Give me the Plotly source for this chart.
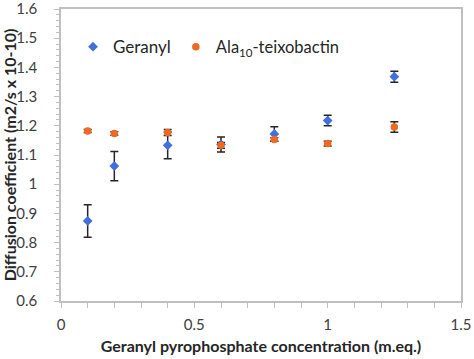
import plotly.graph_objects as go

conc = [0.1, 0.2, 0.4, 0.6, 0.8, 1.0, 1.25]
geranyl = [0.874, 1.062, 1.133, 1.136, 1.172, 1.218, 1.368]
geranyl_err = [0.056, 0.050, 0.046, 0.026, 0.025, 0.018, 0.019]
ala = [1.182, 1.174, 1.177, 1.133, 1.153, 1.139, 1.196]
ala_err = [0.005, 0.006, 0.010, 0.010, 0.006, 0.008, 0.018]

font_family = "Lato, 'Open Sans', sans-serif"
err_color = "#262626"

fig = go.Figure()
fig.add_trace(go.Scatter(
    x=conc, y=geranyl, mode="markers",
    name="<span style='font-size:17px'>Geranyl</span>",
    marker=dict(symbol="diamond", size=7.5, color="#3f6fe0"),
    error_y=dict(type="data", array=geranyl_err, visible=True,
                 color=err_color, thickness=1.5, width=4),
))
fig.add_trace(go.Scatter(
    x=conc, y=ala, mode="markers",
    name="Ala<sub>10</sub>-teixobactin",
    marker=dict(symbol="circle", size=7.5, color="#ee6a24"),
    error_y=dict(type="data", array=ala_err, visible=True,
                 color=err_color, thickness=1.5, width=4),
))

fig.update_layout(
    width=474, height=359,
    margin=dict(l=61, r=13, t=9, b=58, autoexpand=False),
    paper_bgcolor="white", plot_bgcolor="white",
    font=dict(family=font_family, color="#404040"),
    showlegend=True,
    legend=dict(orientation="h", x=0.03, y=0.87,
                xanchor="left", yanchor="middle",
                font=dict(size=16.5, color="#262626"), bgcolor="rgba(0,0,0,0)",
                tracegroupgap=0),
)
fig.update_xaxes(
    range=[0, 1.5], dtick=0.5,
    showgrid=False, zeroline=False,
    showline=True, linecolor="#bfbfbf", linewidth=1.5, mirror=True,
    ticks="outside", ticklen=5, tickcolor="#bfbfbf",
    minor=dict(dtick=0.1, ticks="outside", ticklen=5, tickcolor="#bfbfbf"),
    tickfont=dict(size=15, color="#404040"),
    ticklabelstandoff=4, ticklabeloverflow="allow",
    title=dict(text="<b>Geranyl pyrophosphate concentration (m.eq.)</b>",
               font=dict(size=16, color="#262626"), standoff=9),
)
fig.update_yaxes(
    range=[0.6, 1.6], dtick=0.1,
    showgrid=False, zeroline=False,
    showline=True, linecolor="#bfbfbf", linewidth=1.5, mirror=True,
    ticks="outside", ticklen=5, tickcolor="#bfbfbf",
    minor=dict(dtick=0.02, ticks="outside", ticklen=3, tickcolor="#bfbfbf"),
    tickfont=dict(size=15, color="#404040"),
    ticklabelstandoff=14, ticklabeloverflow="allow",
    title=dict(text="<b>Diffusion coefficient (m2/s x 10-10)</b>",
               font=dict(size=16, color="#262626"), standoff=0),
)

fig.write_html("out.html", config={"displayModeBar": False},
               post_script="document.body.style.margin='0';")
